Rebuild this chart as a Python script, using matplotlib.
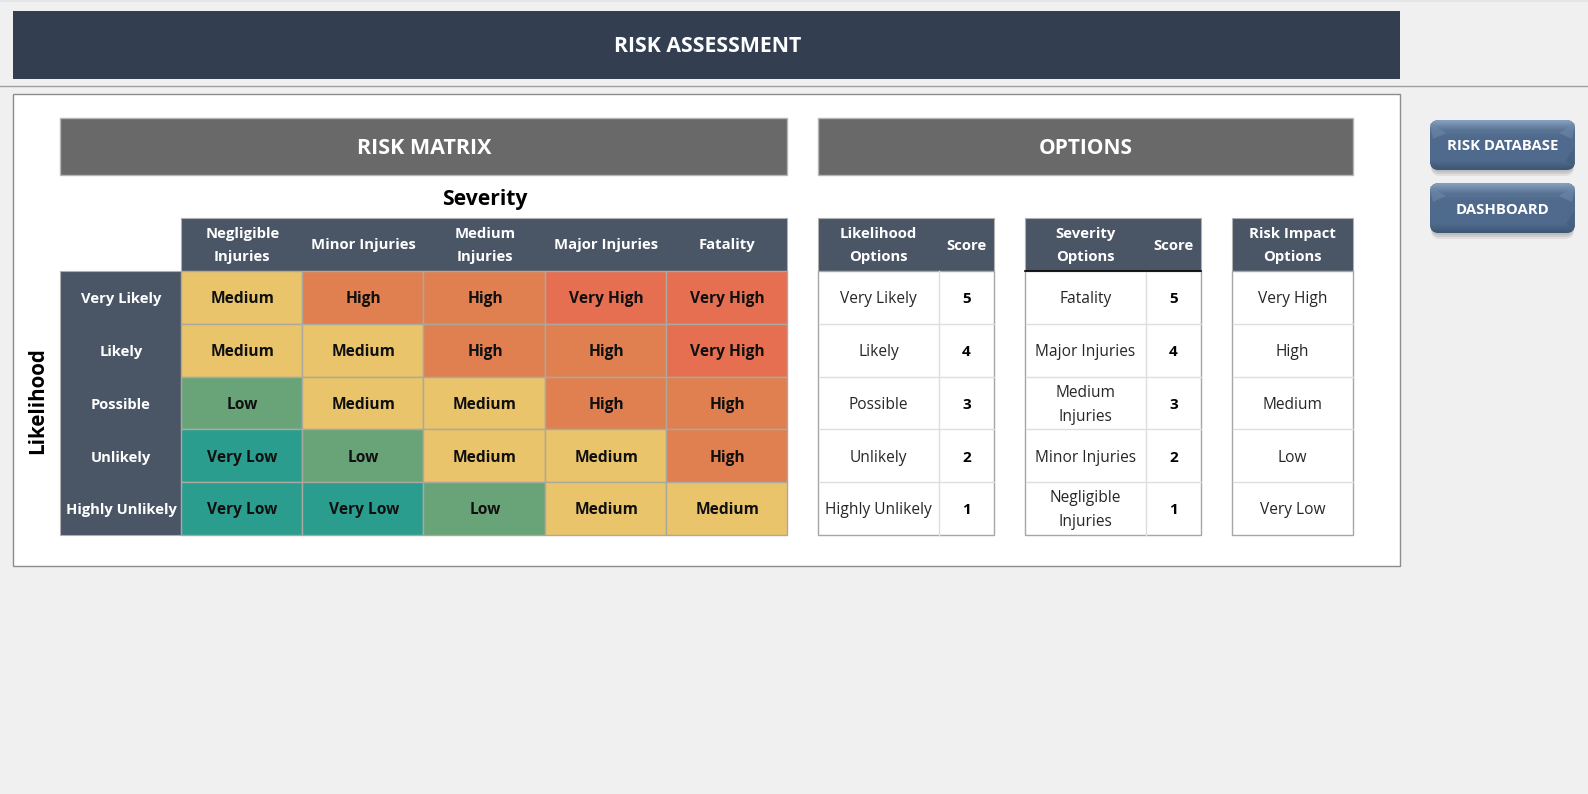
import matplotlib
matplotlib.use("Agg")
import matplotlib.pyplot as plt
import numpy as np
from matplotlib.colors import LinearSegmentedColormap
from matplotlib.patches import Rectangle, FancyBboxPatch, Polygon

plt.rcParams['font.family'] = ['Open Sans', 'DejaVu Sans']

severity = ["Negligible\nInjuries", "Minor Injuries", "Medium\nInjuries", "Major Injuries", "Fatality"]
likelihood = ["Very Likely", "Likely", "Possible", "Unlikely", "Highly Unlikely"]
matrix = [
    ["Medium", "High", "High", "Very High", "Very High"],
    ["Medium", "Medium", "High", "High", "Very High"],
    ["Low", "Medium", "Medium", "High", "High"],
    ["Very Low", "Low", "Medium", "Medium", "High"],
    ["Very Low", "Very Low", "Low", "Medium", "Medium"],
]
likelihood_scores = [5, 4, 3, 2, 1]
severity_options = ["Fatality", "Major Injuries", "Medium\nInjuries", "Minor Injuries", "Negligible\nInjuries"]
severity_scores = [5, 4, 3, 2, 1]
impact_options = ["Very High", "High", "Medium", "Low", "Very Low"]
risk_colors = {"Very Low": "#2a9d8f", "Low": "#69a479", "Medium": "#e9c46a",
               "High": "#e07f50", "Very High": "#e76f51"}

NAVY = "#333f50"
SLATE = "#4a5565"
GREY = "#696969"
BG = "#f0f0f0"
LINE = "#a6a6a6"
INNER = "#dedede"

fig = plt.figure(figsize=(15.88, 7.94), dpi=100, facecolor=BG)
ax = fig.add_axes([0, 0, 1, 1])


def box(x0, y0, x1, y1, fc, ec="none", lw=1.0, z=1):
    ax.add_patch(Rectangle((x0, y0), x1 - x0, y1 - y0, facecolor=fc, edgecolor=ec, linewidth=lw, zorder=z))


def label(x, y, s, size=11.2, color="black", weight="normal", spacing=1.65, **kw):
    ax.text(x, y + 2, s, fontsize=size, color=color, fontweight=weight, ha="center", va="center",
            linespacing=spacing, zorder=5, **kw)


# page furniture
box(0, 0, 1588, 2, "#e2e6e6")
box(13, 10.5, 1400, 79, NAVY)
label(708, 44.5, "RISK ASSESSMENT", size=15.3, color="white", weight="bold")
ax.plot([0, 1588], [86, 86], color="#a0a0a0", lw=1, zorder=2)
box(13, 93.5, 1400, 566, "white", ec="#8c8c8c")

# section headers
box(60, 118, 787, 175, GREY, ec="#b5b5b5")
box(818, 118, 1353, 175, GREY, ec="#b5b5b5")
label(424, 146, "RISK MATRIX", size=15.5, color="white", weight="bold")
label(1086, 146, "OPTIONS", size=15, color="white", weight="bold")
label(485, 197, "Severity", size=15.2, weight="bold")
ax.text(38, 401, "Likelihood", fontsize=14.8, fontweight="bold", rotation=90, ha="center", va="center", zorder=5)

# matrix
mx0, cw = 181, 121.2
ry0, rh = 271, 52.75
box(mx0, 218, mx0 + 5 * cw, ry0, SLATE, ec="#b0b0b0", lw=0.8)
box(60, ry0, mx0, ry0 + 5 * rh, SLATE, ec="#b0b0b0", lw=0.8)
for j, name in enumerate(severity):
    label(mx0 + 0.7 + (j + 0.5) * cw, 243.5, name, size=10.7, color="white", weight="bold", spacing=1.85)
for i, name in enumerate(likelihood):
    label(121, ry0 + (i + 0.5) * rh, name, size=10.6, color="white", weight="bold")
    for j, risk in enumerate(matrix[i]):
        box(mx0 + j * cw, ry0 + i * rh, mx0 + (j + 1) * cw, ry0 + (i + 1) * rh,
            risk_colors[risk], ec="#aba89f", lw=1.0)
        label(mx0 + 1 + (j + 0.5) * cw, ry0 + (i + 0.5) * rh, risk, size=11.2, color="#101010", weight="bold")


def option_table(x0, x1, x2, title, names, scores=None, rule=False):
    # x0..x1 name column, x1..x2 score column (if any)
    right = x2 if scores else x1
    box(x0, 218, right, ry0, SLATE, ec="#b0b0b0", lw=0.8)
    box(x0, ry0, right, ry0 + 5 * rh, "white", ec=LINE, lw=1.0, z=3)
    label((x0 + x1) / 2, 243.5, title, size=10.7, color="white", weight="bold", spacing=1.85)
    if scores:
        label((x1 + x2) / 2, 243.5, "Score", size=10.7, color="white", weight="bold")
        ax.plot([x1, x1], [ry0, ry0 + 5 * rh], color=INNER, lw=1, zorder=4)
    for i, name in enumerate(names):
        yc = ry0 + (i + 0.5) * rh
        if i:
            ax.plot([x0 + 0.5, right - 0.5], [ry0 + i * rh] * 2, color=INNER, lw=1, zorder=4)
        label((x0 + x1) / 2, yc, name, color="#262626")
        if scores:
            label((x1 + x2) / 2, yc, str(scores[i]), size=11, weight="bold")
    if rule:
        ax.plot([x0, right], [ry0, ry0], color="black", lw=1.2, zorder=5)


option_table(818, 939, 994, "Likelihood\nOptions", likelihood, likelihood_scores)
option_table(1025, 1146, 1201, "Severity\nOptions", severity_options, severity_scores, rule=True)
option_table(1232, 1353, 1353, "Risk Impact\nOptions", impact_options)

button_cmap = LinearSegmentedColormap.from_list(
    "button", [(0, "#86a0c0"), (0.2, "#587393"), (0.35, "#4f6a8c"), (0.82, "#4f6a8c"), (1, "#3f5675")])


def button(x0, y0, x1, y1, text):
    for off, alpha in [(6, 0.25), (4, 0.4), (2, 0.5)]:
        ax.add_patch(FancyBboxPatch((x0 + 1, y0 + off), x1 - x0 - 2, y1 - y0, boxstyle="round,pad=0,rounding_size=9",
                                    facecolor="#b0b0b0", edgecolor="none", alpha=alpha, zorder=2))
    face = FancyBboxPatch((x0, y0), x1 - x0, y1 - y0, boxstyle="round,pad=0,rounding_size=9",
                          facecolor="#4f6a8c", edgecolor="none", zorder=3)
    ax.add_patch(face)
    shade = ax.imshow(np.linspace(0, 1, 60).reshape(-1, 1), cmap=button_cmap, aspect="auto",
                      extent=(x0, x1, y1, y0), zorder=3.2)
    shade.set_clip_path(face)
    # corner facets of the bevel
    b = 13
    ax.add_patch(Polygon([(x0, y0 + 3), (x0 + b + 3, y0 + b), (x0 + 3, y0 + b + 6)],
                         facecolor="#6f8aac", edgecolor="none", alpha=0.55, zorder=4))
    ax.add_patch(Polygon([(x1, y0 + 3), (x1 - b - 3, y0 + b), (x1 - 3, y0 + b + 6)],
                         facecolor="#6f8aac", edgecolor="none", alpha=0.55, zorder=4))
    ax.add_patch(Polygon([(x1 - 1, y1 - 4), (x1 - 9, y1 - 9), (x1 - 1, y1 - 22)],
                         facecolor="#425b7a", edgecolor="none", alpha=0.6, zorder=4))
    label((x0 + x1) / 2, (y0 + y1) / 2 - 0.5, text, size=10.7, color="white", weight="bold")


button(1430, 120, 1575, 170, "RISK DATABASE")
button(1430, 183, 1575, 233, "DASHBOARD")

ax.set_xlim(0, 1588)
ax.set_ylim(794, 0)
ax.axis("off")

fig.savefig("out.png", dpi=100, facecolor=BG)
